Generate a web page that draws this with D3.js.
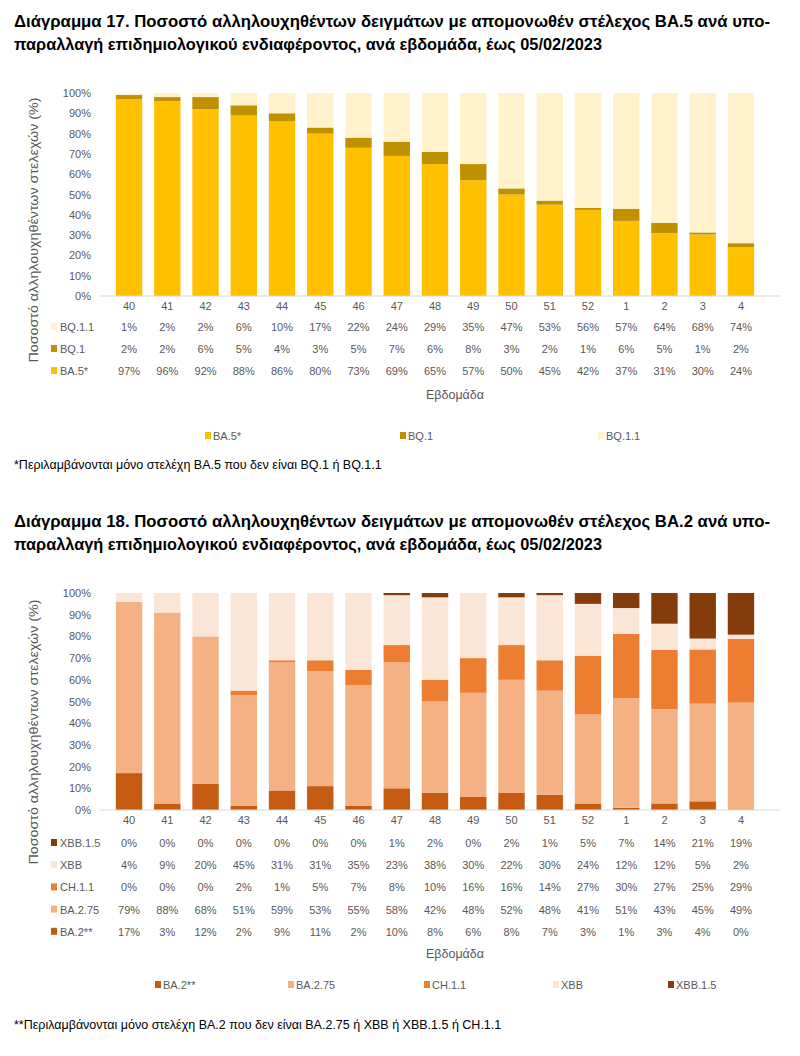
<!DOCTYPE html>
<html>
<head>
<meta charset="utf-8">
<script src="https://cdn.jsdelivr.net/npm/d3@7"></script>
<style>
  body { margin: 0; background: #fff; }
  svg { font-family: "Liberation Sans", Arial, sans-serif; }
  .title { font-weight: bold; font-size: 16px; fill: #000; }
  .tick-lbl { font-size: 11px; fill: #595959; }
  .note { font-size: 12.5px; fill: #000; }
</style>
</head>
<body>
<div id="chart"></div>
<script>
// week labels, shared by both charts
var weeks = ["40", "41", "42", "43", "44", "45", "46", "47", "48", "49", "50", "51", "52", "1", "2", "3", "4"];

// chart 17 - BA.5 sublineages
var ba5Names = ["BA.5*", "BQ.1", "BQ.1.1"];
var ba5Colors = ["#FFC000", "#BF9000", "#FFF2CC"];
var ba5 = [97, 96, 92, 88, 86, 80, 73, 69, 65, 57, 50, 45, 42, 37, 31, 30, 24];
var bq1 = [2, 2, 6, 5, 4, 3, 5, 7, 6, 8, 3, 2, 1, 6, 5, 1, 2];
var bq11 = [1, 2, 2, 6, 10, 17, 22, 24, 29, 35, 47, 53, 56, 57, 64, 68, 74];

// chart 18 - BA.2 sublineages
var ba2Names = ["BA.2**", "BA.2.75", "CH.1.1", "XBB", "XBB.1.5"];
var ba2Colors = ["#C55A11", "#F4B183", "#ED7D31", "#FBE5D6", "#843C0C"];
var ba2 = [17, 3, 12, 2, 9, 11, 2, 10, 8, 6, 8, 7, 3, 1, 3, 4, 0];
var ba275 = [79, 88, 68, 51, 59, 53, 55, 58, 42, 48, 52, 48, 41, 51, 43, 45, 49];
var ch11 = [0, 0, 0, 2, 1, 5, 7, 8, 10, 16, 16, 14, 27, 30, 27, 25, 29];
var xbb = [4, 9, 20, 45, 31, 31, 35, 23, 38, 30, 22, 30, 24, 12, 12, 5, 2];
var xbb15 = [0, 0, 0, 0, 0, 0, 0, 1, 2, 0, 2, 1, 5, 7, 14, 21, 19];

var svg = d3.select("#chart").append("svg").attr("width", 800).attr("height", 1056);

function drawChart(opt) {
    var g = svg.append("g").attr("transform", "translate(0," + opt.top + ")");

    // title lines stretched to the widths in the original (narrow bold font there)
    var titleW = [756, 588];
    g.selectAll(".title").data(opt.title).enter().append("text")
        .attr("class", "title")
        .attr("x", 14)
        .attr("y", function(d, i) { return 27 + i * 23; })
        .attr("textLength", function(d, i) { return titleW[i]; })
        .attr("lengthAdjust", "spacingAndGlyphs")
        .text(function(d) { return d; });

    var rows = weeks.map(function(w, i) {
        var r = { week: w };
        opt.names.forEach(function(n, k) { r[n] = opt.series[k][i]; });
        return r;
    });

    var x = d3.scaleBand().domain(weeks).range([104, 766]).padding(0.31);
    var y = d3.scaleLinear().domain([0, 1]).range([opt.plotBottom, opt.plotTop]);
    var color = d3.scaleOrdinal().domain(opt.names).range(opt.colors);

    var stack = d3.stack().keys(opt.names).offset(d3.stackOffsetExpand);
    var layers = stack(rows);

    g.selectAll(".layer").data(layers).enter().append("g")
        .attr("fill", function(d) { return color(d.key); })
        .selectAll("rect").data(function(d) { return d; }).enter().append("rect")
        .attr("x", function(d) { return x(d.data.week); })
        .attr("width", x.bandwidth())
        .attr("y", function(d) { return y(d[1]); })
        .attr("height", function(d) { return y(d[0]) - y(d[1]); });

    var yAxis = g.append("g").attr("transform", "translate(95,0)")
        .call(d3.axisLeft(y).ticks(10, "%").tickSize(0).tickPadding(4));
    yAxis.select(".domain").remove();
    yAxis.selectAll("text").attr("class", "tick-lbl").attr("font-family", null).attr("font-size", null);

    g.append("line")
        .attr("x1", 100).attr("x2", 780)
        .attr("y1", opt.plotBottom).attr("y2", opt.plotBottom)
        .attr("stroke", "#D9D9D9");

    g.selectAll(".wk").data(weeks).enter().append("text")
        .attr("class", "tick-lbl")
        .attr("text-anchor", "middle")
        .attr("x", function(d) { return x(d) + x.bandwidth() / 2; })
        .attr("y", opt.plotBottom + 14)
        .text(function(d) { return d; });

    // data table below the axis, top row = last series
    var tableNames = opt.names.slice().reverse();
    tableNames.forEach(function(n, r) {
        var ty = opt.tableTop + r * opt.rowH;
        g.append("rect").attr("x", 51).attr("y", ty - 8).attr("width", 6).attr("height", 7).attr("fill", color(n));
        g.append("text").attr("class", "tick-lbl").attr("x", 60).attr("y", ty).text(n);
        g.selectAll(".v" + r).data(rows).enter().append("text")
            .attr("class", "tick-lbl")
            .attr("text-anchor", "middle")
            .attr("x", function(d) { return x(d.week) + x.bandwidth() / 2; })
            .attr("y", ty)
            .text(function(d) { return d[n] + "%"; });
    });

    g.append("text").attr("class", "tick-lbl")
        .attr("text-anchor", "middle")
        .attr("x", 455).attr("y", opt.xTitleY)
        .style("font-size", "12.5px")
        .text("Εβδομάδα");

    g.append("text").attr("class", "tick-lbl")
        .attr("text-anchor", "middle")
        .attr("transform", "translate(38," + opt.yTitleMid + ") rotate(-90)")
        .style("font-size", "13.5px")
        .attr("textLength", 265)
        .attr("lengthAdjust", "spacingAndGlyphs")
        .text("Ποσοστό αλληλουχηθέντων στελεχών (%)");

    opt.names.forEach(function(n, k) {
        var lx = opt.legendX[k];
        g.append("rect").attr("x", lx).attr("y", opt.legendY - 8).attr("width", 6).attr("height", 7).attr("fill", color(n));
        g.append("text").attr("class", "tick-lbl").attr("x", lx + 8).attr("y", opt.legendY).text(n);
    });

    g.append("text").attr("class", "note")
        .attr("x", 14).attr("y", opt.noteY)
        .text(opt.note);
}

drawChart({
    top: 0,
    title: ["Διάγραμμα 17. Ποσοστό αλληλουχηθέντων δειγμάτων με απομονωθέν στέλεχος ΒΑ.5 ανά υπο-",
            "παραλλαγή επιδημιολογικού ενδιαφέροντος, ανά εβδομάδα, έως 05/02/2023"],
    names: ba5Names,
    colors: ba5Colors,
    series: [ba5, bq1, bq11],
    plotTop: 93,
    plotBottom: 296,
    tableTop: 331,
    rowH: 22,
    xTitleY: 399,
    yTitleMid: 230,
    legendX: [205, 400, 598],
    legendY: 440,
    noteY: 469,
    note: "*Περιλαμβάνονται μόνο στελέχη BA.5 που δεν είναι BQ.1 ή BQ.1.1"
});

drawChart({
    top: 500,
    title: ["Διάγραμμα 18. Ποσοστό αλληλουχηθέντων δειγμάτων με απομονωθέν στέλεχος ΒΑ.2 ανά υπο-",
            "παραλλαγή επιδημιολογικού ενδιαφέροντος, ανά εβδομάδα, έως 05/02/2023"],
    names: ba2Names,
    colors: ba2Colors,
    series: [ba2, ba275, ch11, xbb, xbb15],
    plotTop: 93,
    plotBottom: 310,
    tableTop: 347,
    rowH: 22.2,
    xTitleY: 458,
    yTitleMid: 232,
    legendX: [155, 288, 424, 553, 668],
    legendY: 489,
    noteY: 529,
    note: "**Περιλαμβάνονται μόνο στελέχη BA.2 που δεν είναι BA.2.75 ή XBB ή XBB.1.5 ή CH.1.1"
});
</script>
</body>
</html>
